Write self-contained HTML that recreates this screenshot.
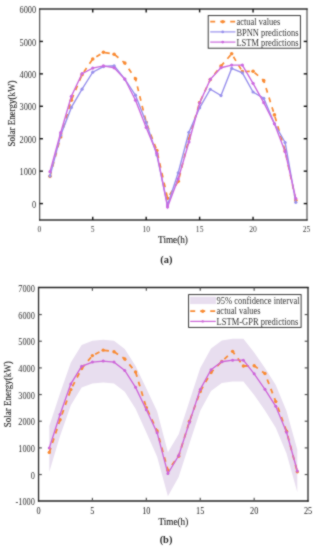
<!DOCTYPE html>
<html><head><meta charset="utf-8"><title>Solar energy predictions</title>
<style>
html,body{margin:0;padding:0;background:#fff;}
body{width:322px;height:550px;overflow:hidden;}
svg{display:block;}
text{stroke:none;}
text.xt{stroke:none;}
</style></head><body><div id="w">
<svg width="322" height="550" viewBox="0 0 322 550" font-family='"Liberation Serif", "Times New Roman", serif'>
<defs><filter id="bl" x="0" y="0" width="1" height="1" color-interpolation-filters="sRGB"><feConvolveMatrix order="3" kernelMatrix="1 2 1 2 12 2 1 2 1" edgeMode="duplicate" preserveAlpha="true"/></filter></defs>
<g filter="url(#bl)">
<rect width="322" height="550" fill="#fff"/>
<polyline points="49.99,176.34 60.68,136.94 71.36,100.29 82.05,74.67 92.74,58.94 103.43,52.3 114.12,54.18 124.8,63 135.49,78.73 146.18,122.35 156.87,150.56 167.56,198.23 178.24,181.37 188.93,138.72 199.62,102.56 210.31,79.44 221,66.08 231.68,53.75 242.37,71.59 253.06,71.27 263.75,80.67 274.44,114.89 285.12,150.88 295.81,200.34" fill="none" stroke="#f98a32" stroke-width="1.7" stroke-dasharray="4.8 5.2"/>
<circle cx="49.99" cy="176.34" r="1.8" fill="#f98a32"/><circle cx="60.68" cy="136.94" r="1.8" fill="#f98a32"/><circle cx="71.36" cy="100.29" r="1.8" fill="#f98a32"/><circle cx="82.05" cy="74.67" r="1.8" fill="#f98a32"/><circle cx="92.74" cy="58.94" r="1.8" fill="#f98a32"/><circle cx="103.43" cy="52.3" r="1.8" fill="#f98a32"/><circle cx="114.12" cy="54.18" r="1.8" fill="#f98a32"/><circle cx="124.8" cy="63" r="1.8" fill="#f98a32"/><circle cx="135.49" cy="78.73" r="1.8" fill="#f98a32"/><circle cx="146.18" cy="122.35" r="1.8" fill="#f98a32"/><circle cx="156.87" cy="150.56" r="1.8" fill="#f98a32"/><circle cx="167.56" cy="198.23" r="1.8" fill="#f98a32"/><circle cx="178.24" cy="181.37" r="1.8" fill="#f98a32"/><circle cx="188.93" cy="138.72" r="1.8" fill="#f98a32"/><circle cx="199.62" cy="102.56" r="1.8" fill="#f98a32"/><circle cx="210.31" cy="79.44" r="1.8" fill="#f98a32"/><circle cx="221" cy="66.08" r="1.8" fill="#f98a32"/><circle cx="231.68" cy="53.75" r="1.8" fill="#f98a32"/><circle cx="242.37" cy="71.59" r="1.8" fill="#f98a32"/><circle cx="253.06" cy="71.27" r="1.8" fill="#f98a32"/><circle cx="263.75" cy="80.67" r="1.8" fill="#f98a32"/><circle cx="274.44" cy="114.89" r="1.8" fill="#f98a32"/><circle cx="285.12" cy="150.88" r="1.8" fill="#f98a32"/><circle cx="295.81" cy="200.34" r="1.8" fill="#f98a32"/>
<polyline points="49.99,175.95 60.68,135.22 71.36,107.39 82.05,89.14 92.74,72.18 103.43,66.56 114.12,65.75 124.8,79.05 135.49,95.2 146.18,122.48 156.87,155 167.56,205.08 178.24,172.78 188.93,132.24 199.62,107.78 210.31,89.23 221,95.53 231.68,68.38 242.37,72.86 253.06,92.02 263.75,98.31 274.44,123.77 285.12,142.52 295.81,202.29" fill="none" stroke="#9890ec" stroke-width="1.4"/>
<circle cx="49.99" cy="175.95" r="1.6" fill="#9890ec"/><circle cx="60.68" cy="135.22" r="1.6" fill="#9890ec"/><circle cx="71.36" cy="107.39" r="1.6" fill="#9890ec"/><circle cx="82.05" cy="89.14" r="1.6" fill="#9890ec"/><circle cx="92.74" cy="72.18" r="1.6" fill="#9890ec"/><circle cx="103.43" cy="66.56" r="1.6" fill="#9890ec"/><circle cx="114.12" cy="65.75" r="1.6" fill="#9890ec"/><circle cx="124.8" cy="79.05" r="1.6" fill="#9890ec"/><circle cx="135.49" cy="95.2" r="1.6" fill="#9890ec"/><circle cx="146.18" cy="122.48" r="1.6" fill="#9890ec"/><circle cx="156.87" cy="155" r="1.6" fill="#9890ec"/><circle cx="167.56" cy="205.08" r="1.6" fill="#9890ec"/><circle cx="178.24" cy="172.78" r="1.6" fill="#9890ec"/><circle cx="188.93" cy="132.24" r="1.6" fill="#9890ec"/><circle cx="199.62" cy="107.78" r="1.6" fill="#9890ec"/><circle cx="210.31" cy="89.23" r="1.6" fill="#9890ec"/><circle cx="221" cy="95.53" r="1.6" fill="#9890ec"/><circle cx="231.68" cy="68.38" r="1.6" fill="#9890ec"/><circle cx="242.37" cy="72.86" r="1.6" fill="#9890ec"/><circle cx="253.06" cy="92.02" r="1.6" fill="#9890ec"/><circle cx="263.75" cy="98.31" r="1.6" fill="#9890ec"/><circle cx="274.44" cy="123.77" r="1.6" fill="#9890ec"/><circle cx="285.12" cy="142.52" r="1.6" fill="#9890ec"/><circle cx="295.81" cy="202.29" r="1.6" fill="#9890ec"/>
<polyline points="49.99,171.64 60.68,132.72 71.36,96.3 82.05,73.67 92.74,68.09 103.43,65.88 114.12,67.8 124.8,79.05 135.49,100.2 146.18,127.44 156.87,153.19 167.56,206.96 178.24,178.84 188.93,141.97 199.62,103.05 210.31,79.34 221,67.7 231.68,65.11 242.37,65.11 253.06,83.33 263.75,102.69 274.44,123.77 285.12,151.7 295.81,198.59" fill="none" stroke="#cb68df" stroke-width="1.4"/>
<circle cx="49.99" cy="171.64" r="1.6" fill="#cb68df"/><circle cx="60.68" cy="132.72" r="1.6" fill="#cb68df"/><circle cx="71.36" cy="96.3" r="1.6" fill="#cb68df"/><circle cx="82.05" cy="73.67" r="1.6" fill="#cb68df"/><circle cx="92.74" cy="68.09" r="1.6" fill="#cb68df"/><circle cx="103.43" cy="65.88" r="1.6" fill="#cb68df"/><circle cx="114.12" cy="67.8" r="1.6" fill="#cb68df"/><circle cx="124.8" cy="79.05" r="1.6" fill="#cb68df"/><circle cx="135.49" cy="100.2" r="1.6" fill="#cb68df"/><circle cx="146.18" cy="127.44" r="1.6" fill="#cb68df"/><circle cx="156.87" cy="153.19" r="1.6" fill="#cb68df"/><circle cx="167.56" cy="206.96" r="1.6" fill="#cb68df"/><circle cx="178.24" cy="178.84" r="1.6" fill="#cb68df"/><circle cx="188.93" cy="141.97" r="1.6" fill="#cb68df"/><circle cx="199.62" cy="103.05" r="1.6" fill="#cb68df"/><circle cx="210.31" cy="79.34" r="1.6" fill="#cb68df"/><circle cx="221" cy="67.7" r="1.6" fill="#cb68df"/><circle cx="231.68" cy="65.11" r="1.6" fill="#cb68df"/><circle cx="242.37" cy="65.11" r="1.6" fill="#cb68df"/><circle cx="253.06" cy="83.33" r="1.6" fill="#cb68df"/><circle cx="263.75" cy="102.69" r="1.6" fill="#cb68df"/><circle cx="274.44" cy="123.77" r="1.6" fill="#cb68df"/><circle cx="285.12" cy="151.7" r="1.6" fill="#cb68df"/><circle cx="295.81" cy="198.59" r="1.6" fill="#cb68df"/>
<line x1="39.65" y1="8.5" x2="39.65" y2="220.6" stroke="#505050" stroke-width="1.2"/><line x1="307" y1="8.5" x2="307" y2="220.6" stroke="#505050" stroke-width="1.2"/><line x1="39.05" y1="9.1" x2="307.6" y2="9.1" stroke="#303030" stroke-width="1.5"/><line x1="39.05" y1="220" x2="307.6" y2="220" stroke="#303030" stroke-width="1.5"/><line x1="92.74" y1="220" x2="92.74" y2="216.7" stroke="#111111" stroke-width="1.4"/><line x1="92.74" y1="9.1" x2="92.74" y2="12.4" stroke="#111111" stroke-width="1.4"/><line x1="146.18" y1="220" x2="146.18" y2="216.7" stroke="#111111" stroke-width="1.4"/><line x1="146.18" y1="9.1" x2="146.18" y2="12.4" stroke="#111111" stroke-width="1.4"/><line x1="199.62" y1="220" x2="199.62" y2="216.7" stroke="#111111" stroke-width="1.4"/><line x1="199.62" y1="9.1" x2="199.62" y2="12.4" stroke="#111111" stroke-width="1.4"/><line x1="253.06" y1="220" x2="253.06" y2="216.7" stroke="#111111" stroke-width="1.4"/><line x1="253.06" y1="9.1" x2="253.06" y2="12.4" stroke="#111111" stroke-width="1.4"/><line x1="39.65" y1="203.58" x2="42.95" y2="203.58" stroke="#111111" stroke-width="1.4"/><line x1="307" y1="203.58" x2="303.7" y2="203.58" stroke="#111111" stroke-width="1.4"/><line x1="39.65" y1="171.15" x2="42.95" y2="171.15" stroke="#111111" stroke-width="1.4"/><line x1="307" y1="171.15" x2="303.7" y2="171.15" stroke="#111111" stroke-width="1.4"/><line x1="39.65" y1="138.72" x2="42.95" y2="138.72" stroke="#111111" stroke-width="1.4"/><line x1="307" y1="138.72" x2="303.7" y2="138.72" stroke="#111111" stroke-width="1.4"/><line x1="39.65" y1="106.29" x2="42.95" y2="106.29" stroke="#111111" stroke-width="1.4"/><line x1="307" y1="106.29" x2="303.7" y2="106.29" stroke="#111111" stroke-width="1.4"/><line x1="39.65" y1="73.86" x2="42.95" y2="73.86" stroke="#111111" stroke-width="1.4"/><line x1="307" y1="73.86" x2="303.7" y2="73.86" stroke="#111111" stroke-width="1.4"/><line x1="39.65" y1="41.43" x2="42.95" y2="41.43" stroke="#111111" stroke-width="1.4"/><line x1="307" y1="41.43" x2="303.7" y2="41.43" stroke="#111111" stroke-width="1.4"/><text transform="translate(36.1,207.72) scale(1,1.12)" text-anchor="end" font-size="8.3" fill="#2e2e2e">0</text><text transform="translate(36.1,175.29) scale(1,1.12)" text-anchor="end" font-size="8.3" fill="#2e2e2e">1000</text><text transform="translate(36.1,142.86) scale(1,1.12)" text-anchor="end" font-size="8.3" fill="#2e2e2e">2000</text><text transform="translate(36.1,110.43) scale(1,1.12)" text-anchor="end" font-size="8.3" fill="#2e2e2e">3000</text><text transform="translate(36.1,78) scale(1,1.12)" text-anchor="end" font-size="8.3" fill="#2e2e2e">4000</text><text transform="translate(36.1,45.57) scale(1,1.12)" text-anchor="end" font-size="8.3" fill="#2e2e2e">5000</text><text transform="translate(36.1,13.14) scale(1,1.12)" text-anchor="end" font-size="8.3" fill="#2e2e2e">6000</text><text transform="translate(39.3,231.9) scale(1,1.12)" text-anchor="middle" font-size="7.6" fill="#3a3a3a" class="xt">0</text><text transform="translate(92.74,231.9) scale(1,1.12)" text-anchor="middle" font-size="7.6" fill="#3a3a3a" class="xt">5</text><text transform="translate(146.18,231.9) scale(1,1.12)" text-anchor="middle" font-size="7.6" fill="#3a3a3a" class="xt">10</text><text transform="translate(199.62,231.9) scale(1,1.12)" text-anchor="middle" font-size="7.6" fill="#3a3a3a" class="xt">15</text><text transform="translate(253.06,231.9) scale(1,1.12)" text-anchor="middle" font-size="7.6" fill="#3a3a3a" class="xt">20</text><text transform="translate(306.5,231.9) scale(1,1.12)" text-anchor="middle" font-size="7.6" fill="#3a3a3a" class="xt">25</text>
<rect x="208.2" y="15.6" width="92.2" height="32.6" fill="#fff" stroke="#262626" stroke-width="0.9"/>
<line x1="210.2" y1="21.7" x2="235.5" y2="21.7" stroke="#f98a32" stroke-width="1.8" stroke-dasharray="5 5"/>
<circle cx="222.7" cy="21.7" r="1.7" fill="#f98a32"/>
<text transform="translate(236.4,25.3) scale(1,1.1)" font-size="8.45" fill="#333333">actual values</text>
<line x1="210.2" y1="31.9" x2="235.5" y2="31.9" stroke="#9890ec" stroke-width="1.2"/>
<circle cx="222.7" cy="31.9" r="1.4" fill="#9890ec"/>
<text transform="translate(236.4,35.5) scale(1,1.1)" font-size="8.45" fill="#333333">BPNN predictions</text>
<line x1="210.2" y1="42.1" x2="235.5" y2="42.1" stroke="#cb68df" stroke-width="1.2"/>
<circle cx="222.7" cy="42.1" r="1.4" fill="#cb68df"/>
<text transform="translate(236.4,45.7) scale(1,1.1)" font-size="8.45" fill="#333333">LSTM predictions</text>
<text transform="translate(173,242.8) scale(1,1.12)" text-anchor="middle" font-size="9.2" fill="#1e1e1e" style="stroke:#1e1e1e;stroke-width:0.12px">Time(h)</text>
<text transform="translate(15.4,113.6) rotate(-90) scale(1,1.12)" text-anchor="middle" font-size="9.0" fill="#1e1e1e" style="stroke:#1e1e1e;stroke-width:0.1px">Solar Energy(kW)</text>
<text x="166.3" y="262.9" text-anchor="middle" font-size="10.4" font-weight="bold" fill="#2a2a2a">(a)</text>
<polygon points="49.28,426.09 60.07,393.22 70.85,362.55 81.64,344.96 92.42,340.77 103.2,339.76 113.99,340.77 124.77,349.06 135.56,366.02 146.34,388.44 157.12,411.35 167.91,452.27 178.69,434.22 189.48,400.95 200.26,368.05 211.04,348.45 221.83,340.43 232.61,338.83 243.4,338.83 254.18,352.45 264.96,367.94 275.75,385.03 286.53,410.92 297.32,449.71 297.32,492.37 286.53,453.58 275.75,427.69 264.96,410.6 254.18,395.11 243.4,381.49 232.61,381.49 221.83,383.09 211.04,391.11 200.26,410.71 189.48,443.61 178.69,476.88 167.91,496.27 157.12,456.67 146.34,432.44 135.56,408.68 124.77,391.72 113.99,383.43 103.2,382.42 92.42,383.43 81.64,387.62 70.85,405.21 60.07,435.88 49.28,471.95" fill="#e8deef"/>
<polyline points="49.28,452.41 60.07,419.75 70.85,389.62 81.64,368.55 92.42,355.62 103.2,350.16 113.99,351.7 124.77,358.96 135.56,371.89 146.34,407.75 157.12,430.94 167.91,470.14 178.69,456.27 189.48,421.21 200.26,391.48 211.04,372.47 221.83,361.49 232.61,351.36 243.4,366.02 254.18,365.75 264.96,373.49 275.75,401.62 286.53,431.21 297.32,471.87" fill="none" stroke="#f98a32" stroke-width="1.8" stroke-dasharray="4.8 5.2"/>
<circle cx="49.28" cy="452.41" r="1.7" fill="#f98a32"/><circle cx="60.07" cy="419.75" r="1.7" fill="#f98a32"/><circle cx="70.85" cy="389.62" r="1.7" fill="#f98a32"/><circle cx="81.64" cy="368.55" r="1.7" fill="#f98a32"/><circle cx="92.42" cy="355.62" r="1.7" fill="#f98a32"/><circle cx="103.2" cy="350.16" r="1.7" fill="#f98a32"/><circle cx="113.99" cy="351.7" r="1.7" fill="#f98a32"/><circle cx="124.77" cy="358.96" r="1.7" fill="#f98a32"/><circle cx="135.56" cy="371.89" r="1.7" fill="#f98a32"/><circle cx="146.34" cy="407.75" r="1.7" fill="#f98a32"/><circle cx="157.12" cy="430.94" r="1.7" fill="#f98a32"/><circle cx="167.91" cy="470.14" r="1.7" fill="#f98a32"/><circle cx="178.69" cy="456.27" r="1.7" fill="#f98a32"/><circle cx="189.48" cy="421.21" r="1.7" fill="#f98a32"/><circle cx="200.26" cy="391.48" r="1.7" fill="#f98a32"/><circle cx="211.04" cy="372.47" r="1.7" fill="#f98a32"/><circle cx="221.83" cy="361.49" r="1.7" fill="#f98a32"/><circle cx="232.61" cy="351.36" r="1.7" fill="#f98a32"/><circle cx="243.4" cy="366.02" r="1.7" fill="#f98a32"/><circle cx="254.18" cy="365.75" r="1.7" fill="#f98a32"/><circle cx="264.96" cy="373.49" r="1.7" fill="#f98a32"/><circle cx="275.75" cy="401.62" r="1.7" fill="#f98a32"/><circle cx="286.53" cy="431.21" r="1.7" fill="#f98a32"/><circle cx="297.32" cy="471.87" r="1.7" fill="#f98a32"/>
<polyline points="49.28,447.95 60.07,414.55 70.85,383.88 81.64,366.29 92.42,362.1 103.2,361.09 113.99,362.1 124.77,370.39 135.56,387.35 146.34,409.77 157.12,432.68 167.91,473.6 178.69,455.55 189.48,422.28 200.26,389.38 211.04,369.78 221.83,361.76 232.61,360.16 243.4,360.16 254.18,373.78 264.96,389.27 275.75,406.36 286.53,432.25 297.32,471.04" fill="none" stroke="#cd64d8" stroke-width="1.35"/>
<circle cx="49.28" cy="447.95" r="1.5" fill="#cd64d8"/><circle cx="60.07" cy="414.55" r="1.5" fill="#cd64d8"/><circle cx="70.85" cy="383.88" r="1.5" fill="#cd64d8"/><circle cx="81.64" cy="366.29" r="1.5" fill="#cd64d8"/><circle cx="92.42" cy="362.1" r="1.5" fill="#cd64d8"/><circle cx="103.2" cy="361.09" r="1.5" fill="#cd64d8"/><circle cx="113.99" cy="362.1" r="1.5" fill="#cd64d8"/><circle cx="124.77" cy="370.39" r="1.5" fill="#cd64d8"/><circle cx="135.56" cy="387.35" r="1.5" fill="#cd64d8"/><circle cx="146.34" cy="409.77" r="1.5" fill="#cd64d8"/><circle cx="157.12" cy="432.68" r="1.5" fill="#cd64d8"/><circle cx="167.91" cy="473.6" r="1.5" fill="#cd64d8"/><circle cx="178.69" cy="455.55" r="1.5" fill="#cd64d8"/><circle cx="189.48" cy="422.28" r="1.5" fill="#cd64d8"/><circle cx="200.26" cy="389.38" r="1.5" fill="#cd64d8"/><circle cx="211.04" cy="369.78" r="1.5" fill="#cd64d8"/><circle cx="221.83" cy="361.76" r="1.5" fill="#cd64d8"/><circle cx="232.61" cy="360.16" r="1.5" fill="#cd64d8"/><circle cx="243.4" cy="360.16" r="1.5" fill="#cd64d8"/><circle cx="254.18" cy="373.78" r="1.5" fill="#cd64d8"/><circle cx="264.96" cy="389.27" r="1.5" fill="#cd64d8"/><circle cx="275.75" cy="406.36" r="1.5" fill="#cd64d8"/><circle cx="286.53" cy="432.25" r="1.5" fill="#cd64d8"/><circle cx="297.32" cy="471.04" r="1.5" fill="#cd64d8"/>
<line x1="38.55" y1="286.9" x2="38.55" y2="501.7" stroke="#262626" stroke-width="1.3"/><line x1="308" y1="286.9" x2="308" y2="501.7" stroke="#262626" stroke-width="1.3"/><line x1="37.95" y1="287.5" x2="308.6" y2="287.5" stroke="#202020" stroke-width="1.5"/><line x1="37.95" y1="501.1" x2="308.6" y2="501.1" stroke="#202020" stroke-width="1.5"/><line x1="92.42" y1="501.1" x2="92.42" y2="497.8" stroke="#555555" stroke-width="1.2"/><line x1="92.42" y1="287.5" x2="92.42" y2="290.8" stroke="#555555" stroke-width="1.2"/><line x1="146.34" y1="501.1" x2="146.34" y2="497.8" stroke="#555555" stroke-width="1.2"/><line x1="146.34" y1="287.5" x2="146.34" y2="290.8" stroke="#555555" stroke-width="1.2"/><line x1="200.26" y1="501.1" x2="200.26" y2="497.8" stroke="#555555" stroke-width="1.2"/><line x1="200.26" y1="287.5" x2="200.26" y2="290.8" stroke="#555555" stroke-width="1.2"/><line x1="254.18" y1="501.1" x2="254.18" y2="497.8" stroke="#555555" stroke-width="1.2"/><line x1="254.18" y1="287.5" x2="254.18" y2="290.8" stroke="#555555" stroke-width="1.2"/><line x1="38.55" y1="474.54" x2="41.85" y2="474.54" stroke="#555555" stroke-width="1.2"/><line x1="308" y1="474.54" x2="304.7" y2="474.54" stroke="#555555" stroke-width="1.2"/><line x1="38.55" y1="447.88" x2="41.85" y2="447.88" stroke="#555555" stroke-width="1.2"/><line x1="308" y1="447.88" x2="304.7" y2="447.88" stroke="#555555" stroke-width="1.2"/><line x1="38.55" y1="421.21" x2="41.85" y2="421.21" stroke="#555555" stroke-width="1.2"/><line x1="308" y1="421.21" x2="304.7" y2="421.21" stroke="#555555" stroke-width="1.2"/><line x1="38.55" y1="394.55" x2="41.85" y2="394.55" stroke="#555555" stroke-width="1.2"/><line x1="308" y1="394.55" x2="304.7" y2="394.55" stroke="#555555" stroke-width="1.2"/><line x1="38.55" y1="367.89" x2="41.85" y2="367.89" stroke="#555555" stroke-width="1.2"/><line x1="308" y1="367.89" x2="304.7" y2="367.89" stroke="#555555" stroke-width="1.2"/><line x1="38.55" y1="341.23" x2="41.85" y2="341.23" stroke="#555555" stroke-width="1.2"/><line x1="308" y1="341.23" x2="304.7" y2="341.23" stroke="#555555" stroke-width="1.2"/><line x1="38.55" y1="314.56" x2="41.85" y2="314.56" stroke="#555555" stroke-width="1.2"/><line x1="308" y1="314.56" x2="304.7" y2="314.56" stroke="#555555" stroke-width="1.2"/><text transform="translate(34.9,505.34) scale(1,1.12)" text-anchor="end" font-size="8.3" fill="#2e2e2e">-1000</text><text transform="translate(34.9,478.68) scale(1,1.12)" text-anchor="end" font-size="8.3" fill="#2e2e2e">0</text><text transform="translate(34.9,452.01) scale(1,1.12)" text-anchor="end" font-size="8.3" fill="#2e2e2e">1000</text><text transform="translate(34.9,425.35) scale(1,1.12)" text-anchor="end" font-size="8.3" fill="#2e2e2e">2000</text><text transform="translate(34.9,398.69) scale(1,1.12)" text-anchor="end" font-size="8.3" fill="#2e2e2e">3000</text><text transform="translate(34.9,372.03) scale(1,1.12)" text-anchor="end" font-size="8.3" fill="#2e2e2e">4000</text><text transform="translate(34.9,345.36) scale(1,1.12)" text-anchor="end" font-size="8.3" fill="#2e2e2e">5000</text><text transform="translate(34.9,318.7) scale(1,1.12)" text-anchor="end" font-size="8.3" fill="#2e2e2e">6000</text><text transform="translate(34.9,292.04) scale(1,1.12)" text-anchor="end" font-size="8.3" fill="#2e2e2e">7000</text><text transform="translate(38.5,513.6) scale(1,1.12)" text-anchor="middle" font-size="8.3" fill="#222222" class="xtb">0</text><text transform="translate(92.42,513.6) scale(1,1.12)" text-anchor="middle" font-size="8.3" fill="#222222" class="xtb">5</text><text transform="translate(146.34,513.6) scale(1,1.12)" text-anchor="middle" font-size="8.3" fill="#222222" class="xtb">10</text><text transform="translate(200.26,513.6) scale(1,1.12)" text-anchor="middle" font-size="8.3" fill="#222222" class="xtb">15</text><text transform="translate(254.18,513.6) scale(1,1.12)" text-anchor="middle" font-size="8.3" fill="#222222" class="xtb">20</text><text transform="translate(308.1,513.6) scale(1,1.12)" text-anchor="middle" font-size="8.3" fill="#222222" class="xtb">25</text>
<rect x="188.6" y="294.6" width="112.5" height="32.8" fill="#fff" stroke="#262626" stroke-width="0.9"/>
<rect x="190.1" y="296.7" width="25.9" height="7.4" fill="#e8deef"/>
<text transform="translate(216.6,303.9) scale(1,1.1)" font-size="8.5" fill="#333333">95% confidence interval</text>
<line x1="190.2" y1="311.2" x2="215.8" y2="311.2" stroke="#f98a32" stroke-width="1.8" stroke-dasharray="5 5"/>
<circle cx="202.7" cy="311.2" r="1.7" fill="#f98a32"/>
<text transform="translate(216.6,314.4) scale(1,1.1)" font-size="8.5" fill="#333333">actual values</text>
<line x1="190.2" y1="321.4" x2="215.8" y2="321.4" stroke="#cd64d8" stroke-width="1.2"/>
<circle cx="202.7" cy="321.4" r="1.2" fill="#cd64d8"/>
<text transform="translate(216.6,324.6) scale(1,1.1)" font-size="8.5" fill="#333333">LSTM-GPR predictions</text>
<text transform="translate(173.3,524.5) scale(1,1.12)" text-anchor="middle" font-size="9.2" fill="#1e1e1e" style="stroke:#1e1e1e;stroke-width:0.12px">Time(h)</text>
<text transform="translate(11.4,394.3) rotate(-90) scale(1,1.12)" text-anchor="middle" font-size="9.0" fill="#1e1e1e" style="stroke:#1e1e1e;stroke-width:0.1px">Solar Energy(kW)</text>
<text x="166" y="543.4" text-anchor="middle" font-size="10.4" font-weight="bold" fill="#2a2a2a">(b)</text>
</g>
</svg>
</div></body></html>
